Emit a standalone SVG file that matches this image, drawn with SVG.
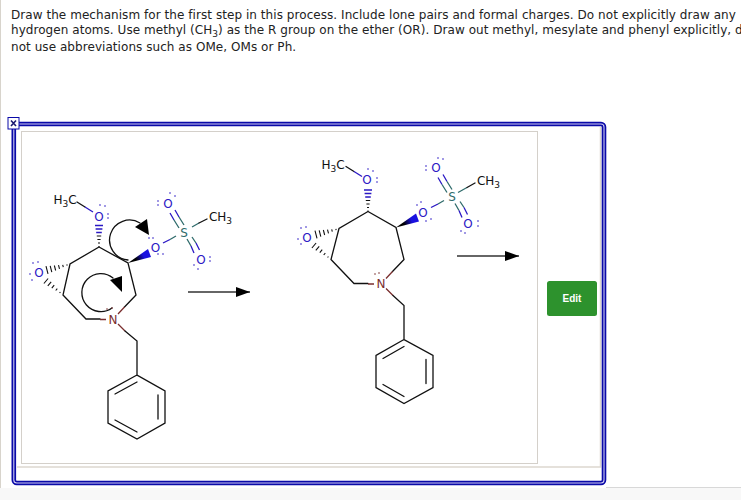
<svg xmlns="http://www.w3.org/2000/svg" width="741" height="500" viewBox="0 0 741 500">
<style>
.q{font:12px "DejaVu Sans",Verdana,sans-serif;fill:#222;letter-spacing:.055px}
.a{font:12px "DejaVu Sans",sans-serif;text-anchor:middle}
.c{fill:#111}.o{fill:#2a18c4}.s{fill:#2f6b6b}.n{fill:#7a2e2e}
.b{fill:none;stroke:#111;stroke-width:1.3;stroke-linecap:round}
.bo{fill:none;stroke:#2a18c4;stroke-width:1.3}
.bs{fill:none;stroke:#2f6b6b;stroke-width:1.3}
.bn{fill:none;stroke:#7a2e2e;stroke-width:1.3}
.h{fill:none;stroke:#111;stroke-width:1.1}
.d{fill:#2a18c4}
.dn{fill:#7a2e2e}
.sub{font-size:9px}
</style>
<defs>
<linearGradient id="wedgeL" gradientUnits="userSpaceOnUse" x1="128" y1="263" x2="150" y2="252"><stop offset="0.35" stop-color="#000"/><stop offset="0.7" stop-color="#1a10e0"/></linearGradient>
<marker id="ah" viewBox="0 0 14 10" refX="14" refY="5" markerWidth="14" markerHeight="10" markerUnits="userSpaceOnUse" orient="auto"><path d="M0 0L14 5L0 10Z" fill="#000"/></marker>
</defs>
<rect x="0" y="0" width="741" height="500" fill="#fff"/>
<rect x="0" y="0" width="1" height="500" fill="#d8d4cc"/>
<rect x="0" y="488" width="741" height="12" fill="#f8f8f8"/>
<path d="M606 487.5H741" stroke="#d8d8d8" fill="none"/>

<g id="question">
<text class="q" x="11" y="19">Draw the mechanism for the first step in this process. Include lone pairs and formal charges. Do not explicitly draw any</text>
<text class="q" x="11" y="34">hydrogen atoms. Use methyl (CH<tspan class="sub" dy="3">3</tspan><tspan dy="-3">) as the R group on the ether (OR). Draw out methyl, mesylate and phenyl explicitly, do</tspan></text>
<text class="q" x="11" y="51">not use abbreviations such as OMe, OMs or Ph.</text>
</g>

<g id="frame">
<path d="M17 467H600.500V127" fill="none" stroke="#ddd8d0" stroke-width="1.500"/>
<rect x="13.800" y="124" width="590.200" height="359" rx="3" fill="none" stroke="#0a0aa8" stroke-width="4.600"/>
<rect x="13.800" y="124" width="590.200" height="359" rx="3" fill="none" stroke="#cfcaf0" stroke-width="1.100"/>
<rect x="21.500" y="131.500" width="516" height="332" fill="#fff" stroke="#d4d0ca" stroke-width="1"/>
</g>
<g id="close">
<rect x="8" y="117.500" width="11" height="11.500" fill="#fff" stroke="#0a0aa8" stroke-width="1"/>
<path d="M11 120.500L16 126M16 120.500L11 126" stroke="#1a1a70" stroke-width="1.600" fill="none"/>
</g>

<g id="molecule-left">
<g id="bonds-left">
<path class="b" d="M99 247L128 263L136 295L124.500 307M100 319L86 319L63 295L70 264L99 247"/>
<path class="bn" d="M124.500 307L118 314M106 319.500H100M118 324L125 331"/>
<path class="b" d="M125 331L137 341V375L165 391V423L137 439L108 423V391L137 375M115 394L137 382M158 395V419M115 420L137 432"/>
<path class="b" d="M77 202L85 207"/><path class="bo" d="M85 207L93 212"/>
<path class="h" d="M98.500 246.500H99.500M98 243H100M97.400 239.500H100.600M96.800 236H101.200"/>
<path class="bo" d="M96.200 232.500H101.800M95.600 229H102.400M95 225.500H103"/>
<path class="h" d="M66.850 264.400L67.150 265.600M62.700 264.800L63.300 267.200M58.500 265.200L59.500 268.800M54.350 265.500L55.650 270.500M50.200 265.900L51.800 272.100M46 266.100L48 273.900"/>
<path class="h" d="M59.600 293L60.400 292M55.700 290.500L57.300 288.700M51.800 288.200L54.200 285.200M47.800 285.800L51.200 281.800M43.900 283.500L48.100 278.500"/>
<path d="M128 263L148 249L151 257Z" fill="url(#wedgeL)"/>
<path class="bo" d="M163 243L170 239.500"/><path class="bs" d="M170 239.500L176 236"/>
<path class="bs" d="M192 227L199 223"/><path class="b" d="M199 223L207 219"/>
<path class="bo" d="M170 213L174 220M175 210L179 217"/><path class="bs" d="M174 220L179 228M179 217L184 225"/>
<path class="bs" d="M187 239L191 246M192 237L196 243"/><path class="bo" d="M191 246L194 253M196 243L199.500 250"/>
</g>
<g id="arrows-curved">
<path class="b" d="M128 260A20 20 0 1 1 140 223"/>
<path d="M135 227L147 219L149 235Z" fill="#000"/>
<path class="b" d="M112 308A19 19 0 1 1 113 278"/>
<path d="M110 280L122 276L122 292Z" fill="#000"/>
</g>
<g id="atom-ome"><text class="a c" x="65" y="204">H<tspan class="sub" dy="3">3</tspan><tspan dy="-3">C</tspan></text><text class="a o" x="99" y="220.500">O</text>
<circle class="d" cx="100" cy="205" r=".8"/><circle class="d" cx="105" cy="206" r=".8"/><circle class="d" cx="108" cy="214" r=".8"/><circle class="d" cx="108" cy="218" r=".8"/></g>
<g id="atom-epoxide"><text class="a o" x="39" y="276.500">O</text>
<circle class="d" cx="33" cy="263" r=".8"/><circle class="d" cx="38" cy="262" r=".8"/><circle class="d" cx="30" cy="274" r=".8"/><circle class="d" cx="32" cy="280" r=".8"/></g>
<g id="atom-ester"><text class="a o" x="155.500" y="251.500">O</text>
<circle class="d" cx="149" cy="238" r=".8"/><circle class="d" cx="153" cy="238" r=".8"/><circle class="d" cx="158" cy="254" r=".8"/><circle class="d" cx="163" cy="254" r=".8"/></g>
<g id="atom-s"><text class="a s" x="184" y="236.500">S</text></g>
<g id="atom-o-up"><text class="a o" x="168" y="207.500">O</text>
<circle class="d" cx="158" cy="201" r=".8"/><circle class="d" cx="158" cy="205" r=".8"/><circle class="d" cx="170" cy="193" r=".8"/><circle class="d" cx="175" cy="196" r=".8"/></g>
<g id="atom-o-down"><text class="a o" x="201" y="263.500">O</text>
<circle class="d" cx="210" cy="257" r=".8"/><circle class="d" cx="210" cy="261" r=".8"/><circle class="d" cx="194" cy="265" r=".8"/><circle class="d" cx="198" cy="269" r=".8"/></g>
<g id="atom-ch3"><text class="a c" x="220.500" y="220.500">CH<tspan class="sub" dy="3">3</tspan></text></g>
<g id="atom-n"><text class="a n" x="113" y="323.500">N</text><circle class="dn" cx="107" cy="309" r=".8"/><circle class="dn" cx="112" cy="308" r=".8"/></g>
</g>

<g id="molecule-right" transform="translate(268,-35.500)">
<g id="bonds-right">
<path class="b" d="M100 247L128 263L136 295L124.500 307M100 319L86 319L63 295L71 264L100 247"/>
<path class="bn" d="M124.500 307L118 314M106 319.500H100M118 324L125 331"/>
<path class="b" d="M125 331L136 341V375L165 391V423L136 439L108 423V391L136 375M115 394L136 382M158 395V419M115 420L136 432"/>
<path class="b" d="M78 202L86 207"/><path class="bo" d="M86 207L94 212"/>
<path class="h" d="M99.500 246.500H100.500M99 243H101M98.400 239.500H101.600M97.800 236H102.200"/>
<path class="bo" d="M97.200 232.500H102.800M96.600 229H103.400M96 225.500H104"/>
<path class="h" d="M67.850 264.400L68.150 265.600M63.700 264.800L64.300 267.200M59.500 265.200L60.500 268.800M55.350 265.500L56.650 270.500M51.200 265.900L52.800 272.100M47 266.100L49 273.900"/>
<path class="h" d="M59.600 293L60.400 292M55.700 290.500L57.300 288.700M51.800 288.200L54.200 285.200M47.800 285.800L51.200 281.800M43.900 283.500L48.100 278.500"/>
<path d="M128 263L148 249L151 257Z" fill="url(#wedgeL)"/>
<path class="bo" d="M163 243L170 239.500"/><path class="bs" d="M170 239.500L176 236"/>
<path class="bs" d="M190 228L199 223"/><path class="b" d="M199 223L207 218.500"/>
<path class="bo" d="M170 213L174 220M175 210L179 217"/><path class="bs" d="M174 220L179 228M179 217L184 225"/>
<path class="bs" d="M187 239L191 246M192 237L196 243"/><path class="bo" d="M191 246L194 253M196 243L199.500 250"/>
</g>
<g id="atom-ome-r"><text class="a c" x="65" y="204">H<tspan class="sub" dy="3">3</tspan><tspan dy="-3">C</tspan></text><text class="a o" x="99" y="219">O</text>
<circle class="d" cx="100" cy="204.500" r=".8"/><circle class="d" cx="105" cy="206.500" r=".8"/><circle class="d" cx="109" cy="213.500" r=".8"/><circle class="d" cx="109" cy="217.500" r=".8"/></g>
<g id="atom-epoxide-r"><text class="a o" x="39" y="277">O</text>
<circle class="d" cx="33" cy="263.500" r=".8"/><circle class="d" cx="38" cy="262.500" r=".8"/><circle class="d" cx="30" cy="274.500" r=".8"/><circle class="d" cx="33" cy="279.500" r=".8"/></g>
<g id="atom-ester-r"><text class="a o" x="155" y="252.500">O</text>
<circle class="d" cx="149" cy="240.500" r=".8"/><circle class="d" cx="153" cy="237.500" r=".8"/><circle class="d" cx="158" cy="256.500" r=".8"/><circle class="d" cx="163" cy="254.500" r=".8"/></g>
<g id="atom-s-r"><text class="a s" x="184" y="236">S</text></g>
<g id="atom-o-up-r"><text class="a o" x="168" y="207.500">O</text>
<circle class="d" cx="158" cy="201.500" r=".8"/><circle class="d" cx="158" cy="205.500" r=".8"/><circle class="d" cx="170" cy="193.500" r=".8"/><circle class="d" cx="175" cy="194.500" r=".8"/></g>
<g id="atom-o-down-r"><text class="a o" x="200" y="263.500">O</text>
<circle class="d" cx="210" cy="256.500" r=".8"/><circle class="d" cx="210" cy="261.500" r=".8"/><circle class="d" cx="193" cy="266.500" r=".8"/><circle class="d" cx="197" cy="268.500" r=".8"/></g>
<g id="atom-ch3-r"><text class="a c" x="220.500" y="220">CH<tspan class="sub" dy="3">3</tspan></text></g>
<g id="atom-n-r"><text class="a n" x="113" y="323">N</text><circle class="dn" cx="107" cy="309.500" r=".8"/><circle class="dn" cx="111" cy="308.500" r=".8"/></g>
</g>

<g id="connectors">
<path d="M188 292H250" stroke="#333" stroke-width="1.300" fill="none" marker-end="url(#ah)"/>
<path d="M457 256H519" stroke="#333" stroke-width="1.300" fill="none" marker-end="url(#ah)"/>
</g>

<g id="edit">
<rect x="547" y="281" width="50" height="35" rx="2.500" fill="#2d922d"/>
<text x="572" y="302" text-anchor="middle" style="font:bold 10px 'Liberation Sans',sans-serif" fill="#fff">Edit</text>
</g>
</svg>
